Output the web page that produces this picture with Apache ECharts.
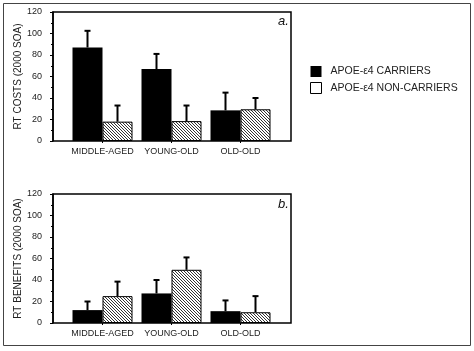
<!DOCTYPE html>
<html>
<head>
<meta charset="utf-8">
<script src="https://cdn.jsdelivr.net/npm/echarts@6/dist/echarts.min.js"></script>
<style>
  html, body { margin: 0; padding: 0; background: #fff; }
  #chart { width: 474px; height: 351px; }
</style>
</head>
<body>
<div id="chart"></div>
<script>
// categories and values
const groups = ['MIDDLE-AGED', 'YOUNG-OLD', 'OLD-OLD']
const seriesNames = ['APOE-\u03b54 CARRIERS', 'APOE-\u03b54 NON-CARRIERS']

const costsCarriers = [87, 67, 28.5]
const costsCarriersTop = [102.5, 81, 45]
const costsNon = [18, 18.5, 29.5]
const costsNonTop = [33, 33, 40]

const benefitsCarriers = [12, 27.5, 11]
const benefitsCarriersTop = [20, 40, 21]
const benefitsNon = [25, 49.5, 10]
const benefitsNonTop = [38.5, 61, 25]

const font = 'Liberation Sans, Arial, sans-serif'
const barW = 30

// diagonal hatch for the non-carrier bars
function hatch() {
  const c = document.createElement('canvas')
  c.width = 3
  c.height = 3
  const ctx = c.getContext('2d')
  ctx.fillStyle = '#fff'
  ctx.fillRect(0, 0, 3, 3)
  ctx.fillStyle = '#333'
  for (let i = 0; i < 3; i++) ctx.fillRect(i, i, 1, 1)
  return { image: c, repeat: 'repeat' }
}

function errBars(vals, tops, off, xi, yi) {
  return {
    type: 'custom',
    xAxisIndex: xi,
    yAxisIndex: yi,
    z: 5,
    silent: true,
    data: vals.map((v, i) => [i, tops[i], v]),
    renderItem(params, api) {
      const top = api.coord([api.value(0), api.value(1)])
      const base = api.coord([api.value(0), api.value(2)])
      const cx = top[0] + off
      const st = { stroke: '#000', lineWidth: 2 }
      return {
        type: 'group',
        children: [
          { type: 'line', shape: { x1: cx, y1: base[1], x2: cx, y2: top[1] }, style: st },
          { type: 'line', shape: { x1: cx - 3, y1: top[1], x2: cx + 3, y2: top[1] }, style: st }
        ]
      }
    }
  }
}

function catAxis(gi) {
  return {
    gridIndex: gi,
    type: 'category',
    data: groups,
    axisLine: { show: false },
    axisTick: { show: true, alignWithLabel: true, length: 2, lineStyle: { color: '#000' } },
    axisLabel: { interval: 0, color: '#222', fontSize: 9, fontFamily: font, margin: 6 }
  }
}

function valAxis(gi, name) {
  return {
    gridIndex: gi,
    type: 'value',
    min: 0,
    max: 120,
    interval: 20,
    offset: 15,
    name: name,
    nameLocation: 'middle',
    nameGap: 28,
    nameTextStyle: { color: '#222', fontSize: 10, fontFamily: font },
    axisLine: { show: true, lineStyle: { color: '#000', width: 1.5 } },
    axisTick: { show: true, inside: false, length: 3, lineStyle: { color: '#000' } },
    minorTick: { show: true, splitNumber: 2, length: 2, lineStyle: { color: '#000' } },
    axisLabel: { color: '#222', fontSize: 9, fontFamily: font, margin: 11 },
    splitLine: { show: false }
  }
}

const hidden = gi => ({ gridIndex: gi, type: 'value', show: false })
const tagStyle = { fontSize: 13, fontStyle: 'italic', fontWeight: 'normal', color: '#111', fontFamily: font }

const chart = echarts.init(document.getElementById('chart'))
chart.setOption({
  animation: false,
  backgroundColor: '#fff',
  textStyle: { fontFamily: font },
  graphic: [{
    type: 'rect',
    shape: { x: 3.5, y: 3.5, width: 467, height: 342 },
    style: { fill: 'none', stroke: '#444', lineWidth: 1 },
    silent: true
  }],
  title: [
    { text: 'a.', left: 278, top: 15, padding: 0, textStyle: tagStyle },
    { text: 'b.', left: 278, top: 198, padding: 0, textStyle: tagStyle }
  ],
  legend: {
    orient: 'vertical',
    left: 310,
    top: 66,
    padding: 0,
    itemWidth: 11,
    itemHeight: 11,
    itemGap: 5,
    icon: 'rect',
    selectedMode: false,
    textStyle: { color: '#222', fontSize: 10.5, fontFamily: font, padding: [0, 0, 0, 4] },
    data: [
      { name: seriesNames[0], itemStyle: { color: '#000', borderWidth: 0 } },
      { name: seriesNames[1], itemStyle: { color: '#fff', borderColor: '#000', borderWidth: 1 } }
    ]
  },
  grid: [
    { left: 68, top: 12, width: 207, height: 129 },
    { left: 53, top: 12, width: 238, height: 129, show: true, borderColor: '#000', borderWidth: 1.5, backgroundColor: 'transparent' },
    { left: 68, top: 194, width: 207, height: 129 },
    { left: 53, top: 194, width: 238, height: 129, show: true, borderColor: '#000', borderWidth: 1.5, backgroundColor: 'transparent' }
  ],
  xAxis: [catAxis(0), hidden(1), catAxis(2), hidden(3)],
  yAxis: [valAxis(0, 'RT COSTS (2000 SOA)'), hidden(1), valAxis(2, 'RT BENEFITS (2000 SOA)'), hidden(3)],
  series: [
    { name: seriesNames[0], type: 'bar', xAxisIndex: 0, yAxisIndex: 0, barWidth: barW, barGap: '0%',
      itemStyle: { color: '#000' }, data: costsCarriers },
    { name: seriesNames[1], type: 'bar', xAxisIndex: 0, yAxisIndex: 0, barWidth: barW, barGap: '0%',
      itemStyle: { color: hatch(), borderColor: '#000', borderWidth: 1 }, data: costsNon },
    { name: seriesNames[0], type: 'bar', xAxisIndex: 2, yAxisIndex: 2, barWidth: barW, barGap: '0%',
      itemStyle: { color: '#000' }, data: benefitsCarriers },
    { name: seriesNames[1], type: 'bar', xAxisIndex: 2, yAxisIndex: 2, barWidth: barW, barGap: '0%',
      itemStyle: { color: hatch(), borderColor: '#000', borderWidth: 1 }, data: benefitsNon },
    errBars(costsCarriers, costsCarriersTop, -barW / 2, 0, 0),
    errBars(costsNon, costsNonTop, barW / 2, 0, 0),
    errBars(benefitsCarriers, benefitsCarriersTop, -barW / 2, 2, 2),
    errBars(benefitsNon, benefitsNonTop, barW / 2, 2, 2)
  ]
})
</script>
</body>
</html>
